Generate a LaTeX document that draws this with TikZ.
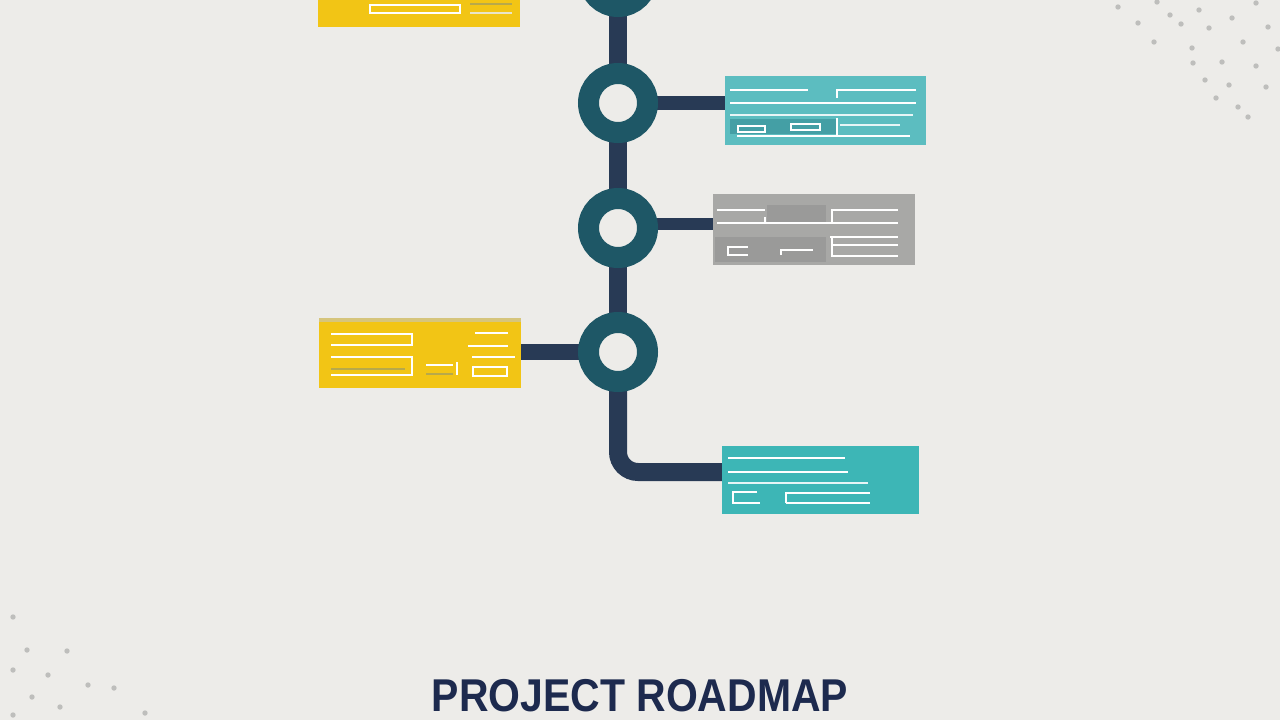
\documentclass[tikz,border=0pt]{standalone}
\usepackage{fontspec}
\setmainfont{Liberation Sans}
\pgfdeclarelayer{bg}
\pgfdeclarelayer{links}
\pgfsetlayers{bg,links,main}
\definecolor{bgc}{HTML}{EDECE9}
\definecolor{navy}{HTML}{283A55}
\definecolor{circc}{HTML}{1E5766}
\definecolor{yel}{HTML}{F2C515}
\definecolor{yeltop}{HTML}{D6C57C}
\definecolor{tealA}{HTML}{5CBDC0}
\definecolor{tealAdk}{HTML}{449FA5}
\definecolor{tealB}{HTML}{3DB6B6}
\definecolor{grayb}{HTML}{A8A8A6}
\definecolor{graydk}{HTML}{9A9A99}
\definecolor{dotc}{HTML}{BEBEBC}
\definecolor{titlec}{HTML}{1D2A4E}
\definecolor{olive}{HTML}{B7A94A}
\begin{document}
\begin{tikzpicture}[x=1pt,y=-1pt,
  ring/.style={circle,minimum size=59pt,inner sep=0pt,outer sep=0pt,draw=circc,line width=21pt,fill=bgc},
  card/.style={rectangle,inner sep=0pt,outer sep=0pt,minimum height=69pt},
  link/.style={draw=navy,line width=14pt},
  spine/.style={draw=navy,line width=18pt},
  wl/.style={draw=white,line width=2.4pt},
  wlt/.style={draw=white!85!tealA,line width=1.8pt},
  dotn/.style={fill=dotc},
  title/.style={font=\fontsize{46}{46}\selectfont\bfseries,text=titlec,xscale=0.89,inner sep=0pt,anchor=base}]
\useasboundingbox (0,0) rectangle (1280,720);
\clip (0,0) rectangle (1280,720);
\begin{pgfonlayer}{bg}
\fill[bgc] (0,0) rectangle (1280,720);
\end{pgfonlayer}

% cards
\node[card,fill=yel,minimum width=202pt,minimum height=70pt] (yA) at (419,-8) {};
\node[card,fill=tealA,minimum width=201pt] (tA) at (825.5,110.5) {};
\node[card,fill=grayb,minimum width=202pt,minimum height=71pt] (gr) at (814,229.5) {};
\node[card,fill=yel,minimum width=202pt,minimum height=70pt] (yB) at (420,353) {};
\node[card,fill=tealB,minimum width=197pt,minimum height=68pt] (tB) at (820.5,480) {};

% rings
\node[ring] (c0) at (618,-23) {};
\node[ring] (c1) at (618,103) {};
\node[ring] (c2) at (618,228) {};
\node[ring] (c3) at (618,352) {};

% connectors
\begin{pgfonlayer}{links}
\draw[spine] (c0) -- (c1);
\draw[spine] (c1) -- (c2);
\draw[spine] (c2) -- (c3);
\draw[spine,rounded corners=20pt] (c3.center) |- ([yshift=8pt]tB.west);
\draw[link] (c1.center) -- (c1 -| tA.west);
\draw[link,line width=12pt] ([yshift=4pt]c2.center) -- ([yshift=4pt]c2 -| gr.west);
\draw[link,line width=16pt] (c3.center) -- (c3 -| yB.east);
\end{pgfonlayer}

% top yellow card details
\draw[wl] (370,5) rectangle (460,13);
\draw[draw=olive,line width=2pt] (470,4) -- (512,4);
\draw[draw=white!70!olive,line width=2pt] (470,13) -- (512,13);

% teal card A details
\fill[tealAdk] (730,119) rectangle (836,134);
\draw[wl] (730,90) -- (808,90);
\draw[wl] (916,90) -- (837,90) -- (837,98);
\draw[wl] (730,103) -- (916,103);
\draw[wlt] (730,115) -- (913,115);
\draw[wl] (738,126) rectangle (765,132);
\draw[wl] (791,124) rectangle (820,130);
\draw[wl] (837,118) -- (837,135);
\draw[wlt] (840,125) -- (900,125);
\draw[wl] (737,136) -- (910,136);

% gray card details
\fill[graydk] (767,205) rectangle (826,222);
\fill[graydk] (715,237) rectangle (826,262);
\draw[wl] (717,210) -- (765,210);
\draw[wl] (765,217) -- (765,223);
\draw[wl] (717,223) -- (898,223);
\draw[wl] (898,210) -- (832,210) -- (832,223);
\draw[wl] (830,237) -- (898,237);
\draw[wl] (748,247) -- (728,247) -- (728,255) -- (748,255);
\draw[wl] (813,250) -- (781,250) -- (781,255);
\draw[wl] (832,237) -- (832,257);
\draw[wl] (832,245) -- (898,245);
\draw[wl] (832,256) -- (898,256);

% yellow card B details
\fill[yeltop] (319,318) rectangle (521,322);
\draw[wl] (331,334) -- (412,334) -- (412,345) -- (331,345);
\draw[wl] (331,357) -- (412,357) -- (412,375) -- (331,375);
\draw[draw=olive,line width=2pt] (331,369) -- (405,369);
\draw[wl] (475,333) -- (508,333);
\draw[wl] (468,346) -- (508,346);
\draw[wl] (472,357) -- (515,357);
\draw[wl] (426,365) -- (453,365);
\draw[draw=olive,line width=2pt] (426,374) -- (453,374);
\draw[wl] (457,362) -- (457,375);
\draw[wl] (473,367) rectangle (507,376);

% teal card B details
\draw[wl] (728,458) -- (845,458);
\draw[wl] (728,472) -- (848,472);
\draw[wlt] (728,483) -- (868,483);
\draw[wl] (757,492) -- (733,492) -- (733,503) -- (760,503);
\draw[wl] (786,492) -- (786,503);
\draw[wl] (786,493) -- (870,493);
\draw[wl] (786,503) -- (870,503);

% decorative dots, top right
\foreach \x/\y in {1118/7,1157/2,1138/23,1170/15,1181/24,1199/10,1209/28,1232/18,1256/3,1268/27,1243/42,1154/42,1192/48,1193/63,1222/62,1256/66,1278/49,1205/80,1229/85,1266/87,1216/98,1238/107,1248/117}
  \fill[dotn] (\x,\y) circle (2.7pt);
% decorative dots, bottom left
\foreach \x/\y in {13/617,27/650,67/651,13/670,48/675,88/685,114/688,32/697,60/707,13/715,145/713}
  \fill[dotn] (\x,\y) circle (2.7pt);

% title
\node[title] (ttl) at (640,711) {PROJECT ROADMAP};
\end{tikzpicture}
\end{document}
